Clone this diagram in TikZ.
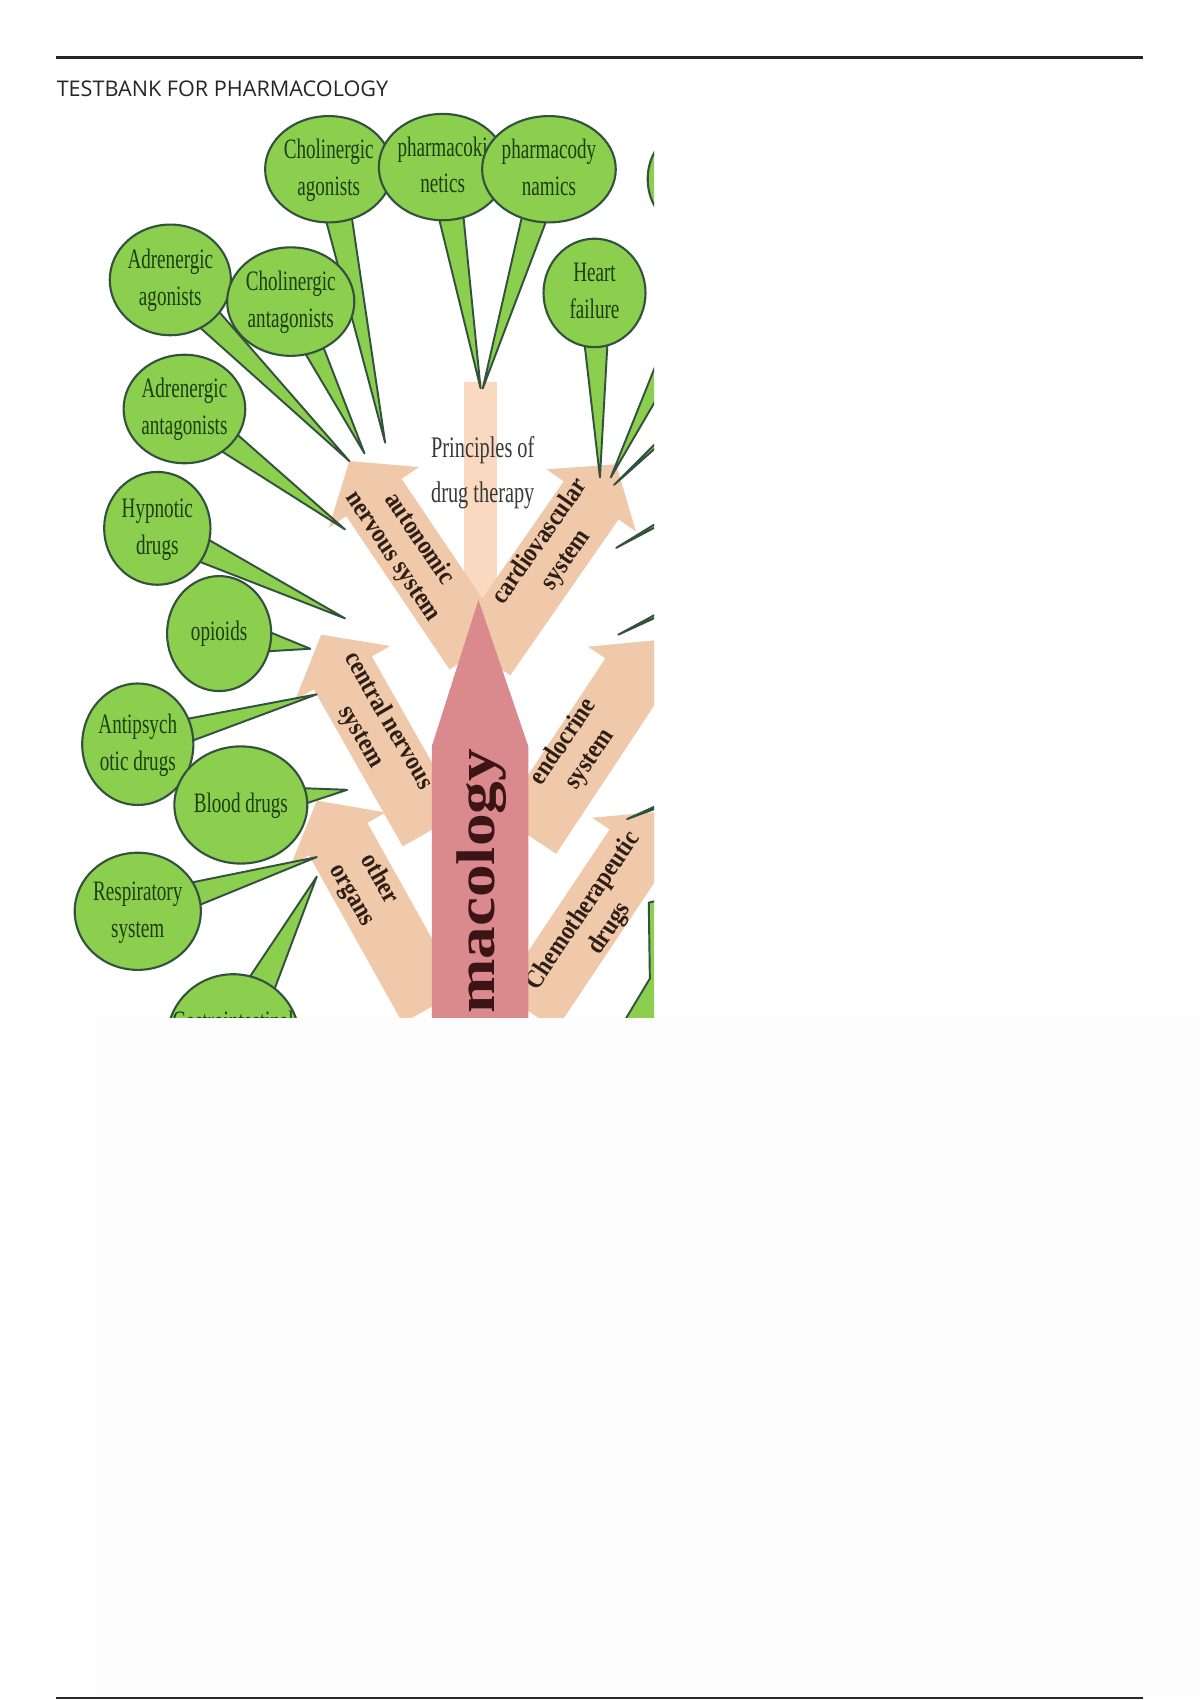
\documentclass[tikz,border=0pt]{standalone}
\usepackage{fontspec}
\usepackage{graphicx}
\setmainfont{Liberation Serif}
\newfontfamily\hdrfont{Open Sans}
\usetikzlibrary{shapes.geometric,calc}
\definecolor{bubgreen}{RGB}{140,206,78}
\definecolor{bubline}{RGB}{50,82,62}
\definecolor{peach}{RGB}{240,200,170}
\definecolor{palepeach}{RGB}{249,218,192}
\definecolor{redarrow}{RGB}{218,138,140}
\definecolor{txtgreen}{RGB}{28,62,16}
\definecolor{arrtxt}{RGB}{45,30,22}
\definecolor{pharmtxt}{RGB}{60,20,22}
\newcommand\condtxt[2][0.68]{\scalebox{#1}[1]{\begin{tabular}{@{}c@{}}#2\end{tabular}}}
\newcommand\bubtail[3]{\draw[tailsh] ($(#1)!#3!90:(#2)$) -- (#2) -- ($(#1)!#3!-90:(#2)$) -- cycle;}
\newcommand\peacharrow[5]{%
  \coordinate (#1-b) at ($(#2)!#5!(#1)$);
  \fill[parr] ($(#1)!#3!90:(#2)$) -- ($(#1-b)!#3!90:(#2)$) -- ($(#1-b)!#4!90:(#2)$) -- (#2)
     -- ($(#1-b)!#4!-90:(#2)$) -- ($(#1-b)!#3!-90:(#2)$) -- ($(#1)!#3!-90:(#2)$) -- cycle;}
\begin{document}
\begin{tikzpicture}[x=0.0217cm, y=-0.0217cm,
  bubble/.style 2 args={ellipse, draw=bubline, line width=1.2pt, fill=bubgreen, inner sep=0pt,
     minimum width=#1*0.0217cm, minimum height=#2*0.0217cm, text=txtgreen,
     font=\fontsize{16}{21}\selectfont},
  tailsh/.style={fill=bubgreen, draw=bubline, line width=1.1pt, line join=round},
  parr/.style={fill=peach},
  alabel/.style={text=arrtxt, font=\bfseries\fontsize{15}{18}\selectfont, inner sep=0pt},
  rule/.style={line width=1.2pt, black!85}]
\useasboundingbox (0,0) rectangle (1106,1567);
\fill[black!0.8] (88,938) rectangle (1106,1562);
% header
\coordinate (tl) at (52,53); \coordinate (tr) at (1054,53);
\draw[rule] (tl) -- (tr);
\node[anchor=base west, inner sep=0pt, font=\hdrfont\fontsize{12.3}{15}\selectfont, text=black!85] (title) at (52,89) {TESTBANK FOR PHARMACOLOGY};
\coordinate (bl) at (52,1565); \coordinate (br) at (1054,1565);
\draw[rule] (bl) -- (br);

\begin{scope}
\clip (63,97) rectangle (603,938);
\fill[white] (63,97) rectangle (603,938);
% principles band
\fill[palepeach] (428,352) rectangle (458,575);
% peach arrows
\coordinate (sA) at (440,600); \coordinate (tA) at (322,425);
\coordinate (sC) at (398,765); \coordinate (tC) at (296,585);
\coordinate (sO) at (398,928); \coordinate (tO) at (292,738);
\coordinate (sV) at (445,605); \coordinate (tV) at (568,428);
\coordinate (sE) at (487,770); \coordinate (tE) at (606,590);
\coordinate (sH) at (487,932); \coordinate (tH) at (610,748);
\peacharrow{sA}{tA}{19pt}{31pt}{25pt}
\peacharrow{sC}{tC}{19pt}{31pt}{25pt}
\peacharrow{sO}{tO}{19pt}{31pt}{25pt}
\peacharrow{sV}{tV}{19pt}{31pt}{25pt}
\peacharrow{sE}{tE}{19pt}{31pt}{25pt}
\peacharrow{sH}{tH}{19pt}{31pt}{25pt}
% arrow labels
\node[alabel, rotate=-56] (lA) at (374,505) {\condtxt[0.88]{autonomic\\nervous system}};
\node[alabel, rotate=-60] (lC) at (345,672) {\condtxt[0.88]{central nervous\\system}};
\node[alabel, rotate=-60] (lO) at (337,818) {\condtxt[0.88]{other\\organs}};
\node[alabel, rotate=55] (lV) at (510,508) {\condtxt[0.88]{cardiovascular\\system}};
\node[alabel, rotate=56] (lE) at (532,692) {\condtxt[0.88]{endocrine\\system}};
\node[alabel, rotate=56] (lH) at (550,848) {\condtxt[0.88]{Chemotherapeutic\\drugs}};
% principles text
\node[text=black!78, font=\fontsize{17}{26}\selectfont, inner sep=0pt] (princ) at (445,434) {\condtxt{Principles of\\drug therapy}};
% red central arrow
\fill[redarrow] (398,945) -- (398,688) -- (441,553) -- (487,688) -- (487,945) -- cycle;
\node[anchor=base east, rotate=90, inner sep=0pt, text=pharmtxt, font=\bfseries\fontsize{31}{36}\selectfont] (pharm) at (456,690) {\scalebox{1.2}[1]{macology}};
% bubble centres and tail tips
\coordinate (c1) at (303,156);  \coordinate (t1) at (355,408);
\coordinate (c2) at (408,154);  \coordinate (t2) at (443,358);
\coordinate (c3) at (506,156);  \coordinate (t3) at (445,358);
\coordinate (c4) at (548,270);  \coordinate (t4) at (553,440);
\coordinate (c5) at (157,258);  \coordinate (t5) at (322,425);
\coordinate (c6) at (268,278);  \coordinate (t6) at (336,418);
\coordinate (c7) at (170,377);  \coordinate (t7) at (318,488);
\coordinate (c8) at (145,487);  \coordinate (t8) at (318,570);
\coordinate (c9) at (202,584);  \coordinate (t9) at (286,598);
\coordinate (c10) at (127,686); \coordinate (t10) at (292,640);
\coordinate (c11) at (222,742); \coordinate (t11) at (320,728);
\coordinate (c12) at (127,840); \coordinate (t12) at (292,790);
\coordinate (c13) at (215,958); \coordinate (t13) at (292,808);
\coordinate (c14) at (645,165);
\coordinate (r1) at (650,262);  \coordinate (u1) at (563,440);
\coordinate (r2) at (690,330);  \coordinate (u2) at (566,447);
\coordinate (r3) at (700,430);  \coordinate (u3) at (568,505);
\coordinate (r4) at (700,520);  \coordinate (u4) at (570,585);
\coordinate (r5) at (700,705);  \coordinate (u5) at (578,755);
% tails
\bubtail{c1}{t1}{9pt}
\bubtail{c2}{t2}{9pt}
\bubtail{c3}{t3}{9pt}
\bubtail{c4}{t4}{9pt}
\bubtail{c5}{t5}{9pt}
\bubtail{c6}{t6}{8pt}
\bubtail{c7}{t7}{9pt}
\bubtail{c8}{t8}{9pt}
\bubtail{c9}{t9}{12pt}
\bubtail{c10}{t10}{9pt}
\bubtail{c11}{t11}{11pt}
\bubtail{c12}{t12}{10pt}
\bubtail{c13}{t13}{12pt}
\bubtail{r1}{u1}{9pt}
\bubtail{r2}{u2}{3pt}
\bubtail{r3}{u3}{3pt}
\bubtail{r4}{u4}{3pt}
\bubtail{r5}{u5}{3pt}
\draw[tailsh] (606,830) -- (598,832) -- (599,902) -- (575,942) -- (606,942) -- cycle;
% bubbles
\node[bubble={94}{98}] (b1) at (c1) {\condtxt{Cholinergic\\agonists}};
\node[bubble={100}{98}] (b2) at (c2) {\condtxt{pharmacoki\\netics}};
\node[bubble={92}{98}] (b3) at (c3) {\condtxt{pharmacody\\namics}};
\node[bubble={94}{100}] (b4) at (c4) {\condtxt{Heart\\failure}};
\node[bubble={94}{102}] (b5) at (c5) {\condtxt{Adrenergic\\agonists}};
\node[bubble={88}{100}] (b6) at (c6) {\condtxt{Cholinergic\\antagonists}};
\node[bubble={94}{100}] (b7) at (c7) {\condtxt{Adrenergic\\antagonists}};
\node[bubble={98}{104}] (b8) at (c8) {\condtxt{Hypnotic\\drugs}};
\node[bubble={96}{106}] (b9) at (c9) {\condtxt{opioids}};
\node[bubble={96}{112}] (b10) at (c10) {\condtxt{Antipsych\\otic drugs}};
\node[bubble={96}{108}] (b11) at (c11) {\condtxt{Blood drugs}};
\node[bubble={96}{108}] (b12) at (c12) {\condtxt{Respiratory\\system}};
\node[bubble={122}{120}] (b13) at (c13) {};
\node[text=txtgreen, font=\fontsize{16}{21}\selectfont, inner sep=0pt, anchor=base] (g13) at (215,950) {\condtxt{Gastrointestinal}};
\node[bubble={96}{100}] (b14) at (c14) {};
\end{scope}
\end{tikzpicture}
\end{document}
